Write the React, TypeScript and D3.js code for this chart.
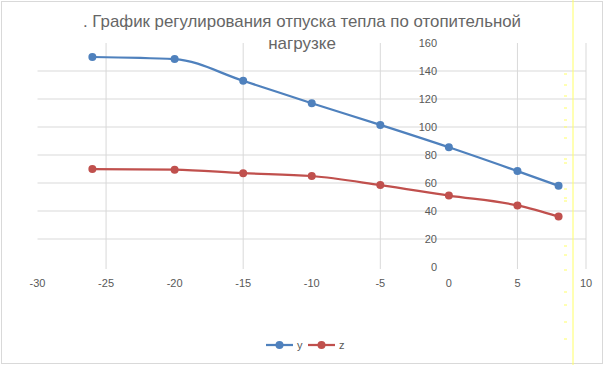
import React from 'react';
import * as d3 from 'd3';

// chart values
const xs = [-26, -20, -15, -10, -5, 0, 5, 8];
const ySeries = [150, 148.5, 133, 117, 101.5, 85.5, 68.5, 58];
const zSeries = [70, 69.5, 67, 65, 58.5, 51, 44, 36];
const xTicks = [-30, -25, -20, -15, -10, -5, 0, 5, 10];
const yTicks = [0, 20, 40, 60, 80, 100, 120, 140, 160];
const xGrid = [-25, -15, -5, 5, 10];
const yGrid = [20, 40, 60, 80, 100, 120, 140];
const titleLines = ['. График регулирования отпуска тепла по отопительной', 'нагрузке'];
// stray yellow marks along the right edge of the source image
const yellowDashes = [74, 85, 96, 108, 120, 127, 138, 159, 163, 189, 198, 201, 246, 255, 270, 292, 305, 322, 339];

const W = 604;
const H = 365;
const font = '"Liberation Sans", Arial, sans-serif';
const textColor = '#595959';

export default function App() {
  const x = d3.scaleLinear().domain([-30, 10]).range([37.5, 586]);
  const y = d3.scaleLinear().domain([0, 160]).range([267, 43]);

  const line = d3.line<number>()
    .x((_, i) => x(xs[i]))
    .y(d => y(d))
    .curve(d3.curveMonotoneX);

  const series = [
    { name: 'y', values: ySeries, color: '#4F81BD' },
    { name: 'z', values: zSeries, color: '#C0504D' },
  ];

  return (
    <svg width={W} height={H} style={{ position: 'absolute', left: 0, top: 0, background: '#fff' }}>
      <rect x={1.5} y={1.5} width={W - 3} height={H - 3} fill="#fff" stroke="#d9d9d9" />

      {yGrid.map(v => (
        <line key={'h' + v} x1={x(-30)} x2={x(10)} y1={y(v)} y2={y(v)} stroke="#d9d9d9" strokeWidth={1} />
      ))}
      {xGrid.map(v => (
        <line key={'v' + v} x1={x(v)} x2={x(v)} y1={y(160)} y2={y(0) + 2} stroke="#d9d9d9" strokeWidth={1} />
      ))}

      {titleLines.map((t, i) => (
        <text key={t} x={302} y={27 + i * 22} textAnchor="middle" fontFamily={font}
          fontSize={17} fill="#666" textLength={i === 0 ? 438 : undefined}
          lengthAdjust="spacingAndGlyphs">{t}</text>
      ))}

      {yTicks.map(v => (
        <text key={'yt' + v} x={437} y={y(v) + 4} textAnchor="end" fontFamily={font}
          fontSize={11} fill={textColor}>{v}</text>
      ))}
      {xTicks.map(v => (
        <text key={'xt' + v} x={x(v)} y={287} textAnchor="middle" fontFamily={font}
          fontSize={11} fill={textColor}>{v}</text>
      ))}

      {series.map(s => (
        <g key={s.name}>
          <path d={line(s.values) || ''} fill="none" stroke={s.color} strokeWidth={2.25} />
          {s.values.map((v, i) => (
            <circle key={i} cx={x(xs[i])} cy={y(v)} r={4} fill={s.color} />
          ))}
        </g>
      ))}

      <line x1={573} x2={573} y1={0} y2={H} stroke="#ffff66" strokeWidth={1} />
      {yellowDashes.map((d, i) => (
        <line key={'yd' + i} x1={564} x2={567} y1={d} y2={d} stroke="#ffff66" strokeWidth={1} />
      ))}

      {series.map((s, i) => {
        const lx = 266 + i * 42;
        return (
          <g key={'lg' + s.name}>
            <line x1={lx} x2={lx + 27} y1={345} y2={345} stroke={s.color} strokeWidth={2.25} />
            <circle cx={lx + 13.5} cy={345} r={4} fill={s.color} />
            <text x={lx + 31} y={349} fontFamily={font} fontSize={11} fill={textColor}>{s.name}</text>
          </g>
        );
      })}
    </svg>
  );
}
